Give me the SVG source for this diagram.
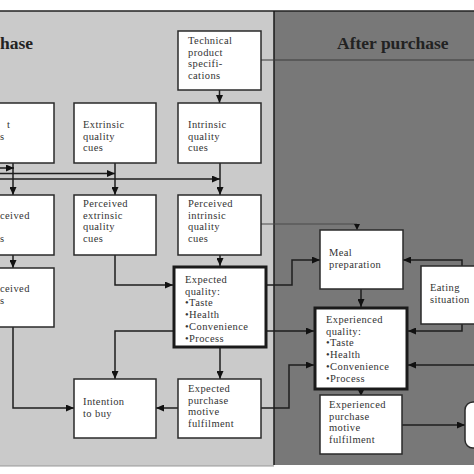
<svg xmlns="http://www.w3.org/2000/svg" width="474" height="474" viewBox="0 0 474 474">
<defs>
<style>
.box{fill:#fff;stroke:#2a2a2a;stroke-width:1.5}
.thick{fill:#fff;stroke:#1a1a1a;stroke-width:3}
.lbl{font-family:"Liberation Serif","Times New Roman",serif;font-size:10.5px;letter-spacing:0.4px;fill:#333}
.head{font-family:"Liberation Serif","Times New Roman",serif;font-size:17.5px;font-weight:bold;fill:#222}
.conn{fill:none;stroke:#1e1e1e;stroke-width:1.5}
.thin{fill:none;stroke:#4a4a4a;stroke-width:1}
</style>
<marker id="arr" markerUnits="userSpaceOnUse" markerWidth="8" markerHeight="7" refX="8" refY="3.5" orient="auto">
<path d="M0,0 L8,3.5 L0,7 z" fill="#111"/>
</marker>
<marker id="arrs" markerUnits="userSpaceOnUse" markerWidth="6" markerHeight="6" refX="6" refY="3" orient="auto">
<path d="M0,0 L6,3 L0,6 z" fill="#111"/>
</marker>
</defs>
<rect x="0" y="0" width="474" height="474" fill="#fff"/>
<g id="panels">
<rect x="0" y="11" width="274" height="455" fill="#cacaca"/>
<rect x="274" y="11" width="200" height="454" fill="#787878"/>
<line x1="0" y1="11" x2="474" y2="11" stroke="#222" stroke-width="1.5"/>
<line x1="274" y1="11" x2="274" y2="465" stroke="#1a1a1a" stroke-width="1.5"/>
<line x1="0" y1="466" x2="274" y2="466" stroke="#999" stroke-width="1"/>
<line x1="261" y1="60" x2="474" y2="60" stroke="#3a3a3a" stroke-width="1"/>
<text class="head" x="0" y="49">hase</text>
<text class="head" x="337" y="49">After purchase</text>
</g>
<g id="connectors">
<path class="conn" d="M219.5,90 V103" marker-end="url(#arr)"/>
<path class="conn" d="M13,163 V195" marker-end="url(#arr)"/>
<path class="conn" d="M115,163 V195" marker-end="url(#arr)"/>
<path class="conn" d="M220,163 V195" marker-end="url(#arr)"/>
<path class="conn" d="M0,168 H14" marker-end="url(#arr)"/>
<path class="conn" d="M0,173.5 H115" marker-end="url(#arr)"/>
<path class="conn" d="M0,179 H220" marker-end="url(#arr)"/>
<path class="conn" d="M13,255 V268" marker-end="url(#arr)"/>
<path class="conn" d="M220,255 V266" marker-end="url(#arr)"/>
<path class="conn" d="M115,255 V285 H173" marker-end="url(#arr)"/>
<path class="conn" d="M173,331 H115 V379" marker-end="url(#arr)"/>
<path class="conn" d="M13,327 V408 H74" marker-end="url(#arr)"/>
<path class="conn" d="M220,348 V379" marker-end="url(#arr)"/>
<path class="conn" d="M178,408 H156" marker-end="url(#arr)"/>
<path class="conn" d="M261,408 H289 V365 H314" marker-end="url(#arr)"/>
<path class="conn" d="M267,285 H292 V260 H320" marker-end="url(#arr)"/>
<path class="conn" d="M267,331 H314" marker-end="url(#arr)"/>
<path class="conn" d="M361,289 V307" marker-end="url(#arr)"/>
<path class="conn" d="M361,390 V396" marker-end="url(#arrs)"/>
<path class="conn" d="M402,425 H465" marker-end="url(#arr)"/>
<path class="conn" d="M462,266 V260 H403" marker-end="url(#arr)"/>
<path class="conn" d="M462,324 V331 H408" marker-end="url(#arr)"/>
<path class="conn" d="M474,365 H408" marker-end="url(#arr)"/>
<path class="thin" d="M261,224 H357 V230" marker-end="url(#arrs)"/>
</g>
<g id="tech">
<rect class="box" x="178" y="31" width="83" height="59"/>
<text class="lbl" x="188" y="44">Technical</text>
<text class="lbl" x="188" y="55.7">product</text>
<text class="lbl" x="188" y="67.4">specifi-</text>
<text class="lbl" x="188" y="79.1">cations</text>
</g>
<g id="left1">
<rect class="box" x="-20" y="103" width="74" height="60"/>
<text class="lbl" x="7" y="128">t</text>
<text class="lbl" x="0" y="140">s</text>
</g>
<g id="extrinsic">
<rect class="box" x="74" y="103" width="82" height="60"/>
<text class="lbl" x="83" y="128">Extrinsic</text>
<text class="lbl" x="83" y="139.7">quality</text>
<text class="lbl" x="83" y="151.4">cues</text>
</g>
<g id="intrinsic">
<rect class="box" x="178" y="103" width="83" height="60"/>
<text class="lbl" x="188" y="128">Intrinsic</text>
<text class="lbl" x="188" y="139.7">quality</text>
<text class="lbl" x="188" y="151.4">cues</text>
</g>
<g id="left2">
<rect class="box" x="-20" y="195" width="74" height="60"/>
<text class="lbl" x="0" y="219">ceived</text>
<text class="lbl" x="0" y="242">s</text>
</g>
<g id="perc-extrinsic">
<rect class="box" x="74" y="195" width="82" height="60"/>
<text class="lbl" x="83" y="207">Perceived</text>
<text class="lbl" x="83" y="218.7">extrinsic</text>
<text class="lbl" x="83" y="230.4">quality</text>
<text class="lbl" x="83" y="242.1">cues</text>
</g>
<g id="perc-intrinsic">
<rect class="box" x="178" y="195" width="83" height="60"/>
<text class="lbl" x="188" y="207">Perceived</text>
<text class="lbl" x="188" y="218.7">intrinsic</text>
<text class="lbl" x="188" y="230.4">quality</text>
<text class="lbl" x="188" y="242.1">cues</text>
</g>
<g id="left3">
<rect class="box" x="-20" y="268" width="74" height="59"/>
<text class="lbl" x="0" y="292">ceived</text>
<text class="lbl" x="0" y="304">s</text>
</g>
<g id="expected-quality">
<rect class="thick" x="174" y="267" width="92" height="80"/>
<text class="lbl" x="185" y="283">Expected</text>
<text class="lbl" x="185" y="294.7">quality:</text>
<text class="lbl" x="185" y="306.4">•Taste</text>
<text class="lbl" x="185" y="318.1">•Health</text>
<text class="lbl" x="185" y="329.8">•Convenience</text>
<text class="lbl" x="185" y="341.5">•Process</text>
</g>
<g id="intention">
<rect class="box" x="74" y="379" width="82" height="59"/>
<text class="lbl" x="83" y="405">Intention</text>
<text class="lbl" x="83" y="416.7">to buy</text>
</g>
<g id="expected-motive">
<rect class="box" x="178" y="379" width="83" height="59"/>
<text class="lbl" x="188" y="392">Expected</text>
<text class="lbl" x="188" y="403.7">purchase</text>
<text class="lbl" x="188" y="415.4">motive</text>
<text class="lbl" x="188" y="427.1">fulfilment</text>
</g>
<g id="meal">
<rect class="box" x="320" y="230" width="83" height="59"/>
<text class="lbl" x="329" y="256">Meal</text>
<text class="lbl" x="329" y="267.7">preparation</text>
</g>
<g id="eating">
<rect class="box" x="421" y="266" width="70" height="58"/>
<text class="lbl" x="430" y="291">Eating</text>
<text class="lbl" x="430" y="302.7">situation</text>
</g>
<g id="experienced-quality">
<rect class="thick" x="315" y="308" width="92" height="81"/>
<text class="lbl" x="326" y="323">Experienced</text>
<text class="lbl" x="326" y="334.7">quality:</text>
<text class="lbl" x="326" y="346.4">•Taste</text>
<text class="lbl" x="326" y="358.1">•Health</text>
<text class="lbl" x="326" y="369.8">•Convenience</text>
<text class="lbl" x="326" y="381.5">•Process</text>
</g>
<g id="experienced-motive">
<rect class="box" x="320" y="395" width="82" height="59"/>
<text class="lbl" x="329" y="408">Experienced</text>
<text class="lbl" x="329" y="419.7">purchase</text>
<text class="lbl" x="329" y="431.4">motive</text>
<text class="lbl" x="329" y="443.1">fulfilment</text>
</g>
<g id="outcome">
<rect class="box" x="465" y="402" width="30" height="46" rx="8"/>
</g>
</svg>
